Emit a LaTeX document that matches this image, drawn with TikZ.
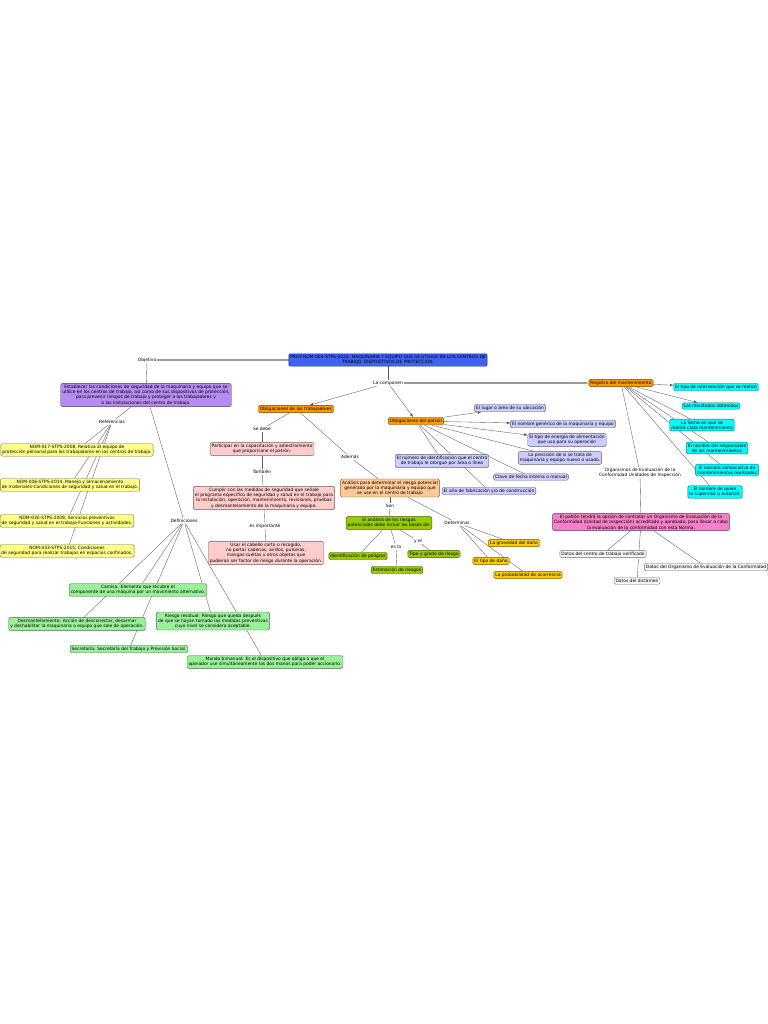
\documentclass[tikz,border=0pt]{standalone}
\usepackage{fontspec}
\setmainfont{DejaVu Sans}
\usetikzlibrary{positioning}
\usetikzlibrary{arrows.meta}
\usetikzlibrary{backgrounds}

\definecolor{rootblue}{HTML}{3D63F0}
\definecolor{objpurple}{HTML}{B58CF0}
\definecolor{refyellow}{HTML}{FFFF88}
\definecolor{defgreen}{HTML}{99F099}
\definecolor{obligorange}{HTML}{FF9A00}
\definecolor{workpink}{HTML}{FFCCCC}
\definecolor{bosslilac}{HTML}{CCCCFF}
\definecolor{riskpeach}{HTML}{FFC896}
\definecolor{baseolive}{HTML}{99CC00}
\definecolor{harmgold}{HTML}{FFCC00}
\definecolor{regcyan}{HTML}{00FFFF}
\definecolor{evalpink}{HTML}{F580C8}
\definecolor{datagray}{HTML}{F6F6F6}

\tikzset{
  box/.style={fill=#1, draw=#1!45!black, rounded corners=1.2pt, align=center, inner sep=1.3pt, line width=0.35pt},
  lbl/.style={inner sep=0.8pt, align=center},
  link/.style={draw=black!65, line width=0.3pt},
  mainlink/.style={draw=black!40, line width=0.9pt},
  tip/.style={-{Latex[length=3pt,width=2.4pt]}},
}

\begin{document}
\begin{tikzpicture}[x=0.03cm, y=-0.03cm, font=\fontsize{3.75}{4.5}\selectfont]
    \useasboundingbox (0,0) rectangle (768,1024);

    % centre
    \node[box=rootblue] (root) at (388,360) {PROY-NOM-004-STPS-2020, MAQUINARIA Y EQUIPO QUE SE UTILICE EN LOS CENTROS DE\\TRABAJO. DISPOSITIVOS DE PROTECCI\'ON.};
    \node[lbl] (obj) at (147,360) {Objetivo};
    \node[lbl] (comp) at (388,383) {La componen};

    % objetivo
    \node[box=objpurple] (goal) at (146,395) {Establecer las condiciones de seguridad de la maquinaria y equipo que se\\utilice en los centros de trabajo, as\'i como de sus dispositivos de protecci\'on,\\para prevenir riesgos de trabajo y proteger a los trabajadores y\\a las instalaciones del centro de trabajo.};
    \node[lbl] (refs) at (112,422) {Referencias};
    \node[lbl] (defs) at (184,521) {Definiciones};

    \node[box=refyellow] (nom17) at (77,450) {NOM-017-STPS-2008, Relativa al equipo de\\protecci\'on personal para los trabajadores en los centros de trabajo.};
    \node[box=refyellow] (nom6) at (70,485) {NOM-006-STPS-2014, Manejo y almacenamiento\\de materiales-Condiciones de seguridad y salud en el trabajo.};
    \node[box=refyellow] (nom30) at (67,521) {NOM-030-STPS-2009, Servicios preventivos\\de seguridad y salud en el trabajo-Funciones y actividades.};
    \node[box=refyellow] (nom33) at (67,551) {NOM-033-STPS-2015, Condiciones\\de seguridad para realizar trabajos en espacios confinados.};

    \node[box=defgreen] (camisa) at (138,590) {Camisa: Elemento que recubre el\\componente de una m\'aquina por un movimiento alternativo.};
    \node[box=defgreen] (desm) at (77,624) {Desmantelamiento: Acci\'on de desconectar, desarmar\\y deshabilitar la maquinaria o equipo que sale de operaci\'on.};
    \node[box=defgreen] (secre) at (129,649) {Secretar\'ia: Secretar\'ia del Trabajo y Previsi\'on Social.};
    \node[box=defgreen] (resid) at (213,621) {Riesgo residual: Riesgo que queda despu\'es\\de que se hayan tomado las medidas preventivas\\cuyo nivel se considera aceptable.};
    \node[box=defgreen] (mando) at (265,662) {Mando bimanual: Es el dispositivo que obliga a que el\\operador use simult\'aneamente las dos manos para poder accionarlo.};

    % trabajadores
    \node[box=obligorange] (work) at (296,409) {Obligaciones de los trabajadores};
    \node[lbl] (sedebe) at (262,429) {Se debe};
    \node[box=workpink] (capac) at (262,449) {Participar en la capacitaci\'on y adiestramiento\\que proporcione el patr\'on.};
    \node[lbl] (tamb) at (262,472) {Tambi\'en};
    \node[box=workpink] (cumplir) at (264,498) {Cumplir con las medidas de seguridad que se\~nale\\el programa espec\'ifico de seguridad y salud en el trabajo para\\la instalaci\'on, operaci\'on, mantenimiento, revisiones, pruebas\\y desmantelamiento de la maquinaria y equipo.};
    \node[lbl] (import) at (265,526) {es importante};
    \node[box=workpink] (cabello) at (266,553) {Usar el cabello corto o recogido,\\no portar cadenas, anillos, pulseras,\\mangas sueltas u otros objetos que\\pudieran ser factor de riesgo durante la operaci\'on.};
    \node[lbl] (ademas) at (350,457) {Adem\'as};

    % riesgo
    \node[box=riskpeach] (anal) at (390,488) {An\'alisis para determinar el riesgo potencial\\generado por la maquinaria y equipo que\\se use en el centro de trabajo};
    \node[lbl] (son) at (390,506) {Son};
    \node[box=baseolive] (bases) at (389,523) {El an\'alisis de los riesgos\\potenciales debe incluir las bases de:};
    \node[lbl] (esla) at (396,547) {es la};
    \node[lbl] (yel) at (418,541) {y el};
    \node[box=baseolive] (ident) at (358,556) {Identificaci\'on de peligros};
    \node[box=baseolive] (estim) at (397,570) {Estimaci\'on de riesgos};
    \node[box=baseolive] (tipo) at (434,554) {Tipo y grado de riesgo};
    \node[lbl] (deter) at (457,523) {Determinar};
    \node[box=harmgold] (grav) at (514,543) {La gravedad del da\~no};
    \node[box=harmgold] (tdano) at (491,561) {El tipo de da\~no};
    \node[box=harmgold] (prob) at (528,575) {La probabilidad de ocurrencia};

    % patron
    \node[box=obligorange] (boss) at (416,421) {Obligaciones del patr\'on};
    \node[box=bosslilac] (lugar) at (510,408) {El lugar o \'area de su ubicaci\'on};
    \node[box=bosslilac] (nombre) at (563,424) {El nombre gen\'erico de la maquinaria y equipo};
    \node[box=bosslilac] (energia) at (567,440) {El tipo de energ\'ia de alimentaci\'on\\que usa para su operaci\'on};
    \node[box=bosslilac] (nuevo) at (560,458) {La precisi\'on de si se trata de\\maquinaria y equipo nuevo o usado.};
    \node[box=bosslilac] (numid) at (442,461) {El n\'umero de identificaci\'on que el centro\\de trabajo le otorgue por \'area o l\'inea};
    \node[box=bosslilac] (clave) at (531,477) {Clave de fecha interna o manual};
    \node[box=bosslilac] (anio) at (489,491) {El a\~no de fabricaci\'on y/o de construcci\'on};

    % registro
    \node[box=obligorange] (reg) at (621,383) {Registro del mantenimiento};
    \node[box=regcyan] (interv) at (716,387) {El tipo de intervenci\'on que se realiz\'o};
    \node[box=regcyan] (result) at (711,406) {Los resultados obtenidos};
    \node[box=regcyan] (fecha) at (702,425) {La fecha en que se\\realiz\'o cada mantenimiento};
    \node[box=regcyan] (resp) at (717,448) {El nombre del responsable\\de los mantenimientos};
    \node[box=regcyan] (consec) at (727,470) {El n\'umero consecutivo de\\mantenimientos realizados};
    \node[box=regcyan] (superv) at (715,492) {El nombre de quien\\lo supervis\'o o autoriz\'o.};
    \node[lbl] (organ) at (640,473) {Organismos de Evaluaci\'on de la\\Conformidad Unidades de Inspecci\'on};
    \node[box=evalpink] (opcion) at (641,522) {El patr\'on tendr\'a la opci\'on de contratar un Organismo de Evaluaci\'on de la\\Conformidad (Unidad de Inspecci\'on) acreditado y aprobado, para llevar a cabo\\la evaluaci\'on de la conformidad con esta Norma.};
    \node[box=datagray] (dcentro) at (603,554) {Datos del centro de trabajo verificado};
    \node[box=datagray] (dorgan) at (706,567) {Datos del Organismo de Evaluaci\'on de la Conformidad};
    \node[box=datagray] (dictam) at (637,581) {Datos del dictamen};

    \begin{scope}[on background layer]
        \draw[mainlink] (obj) -- (root);
        \draw[link] (obj) -- (goal);
        \draw[link] (root) -- (comp);
        \draw[mainlink, tip] (comp) -- (reg);
        \draw[link, tip] (comp) -- (work);
        \draw[link, tip] (comp) -- (boss);

        \draw[link] (goal) -- (refs);
        \foreach \n in {nom17, nom6, nom30, nom33}
            \draw[link] (refs) -- (\n);
        \draw[link] (goal.south) ++(4,0) -- (defs);
        \foreach \n in {camisa, desm, secre, resid, mando}
            \draw[link] (defs) -- (\n);

        \draw[link] (work) -- (sedebe);
        \draw[link] (sedebe) -- (capac);
        \draw[link] (capac) -- (tamb);
        \draw[link] (tamb) -- (cumplir);
        \draw[link] (cumplir) -- (import);
        \draw[link] (import) -- (cabello);
        \draw[link] (work) -- (ademas);
        \draw[link] (ademas) -- (anal);

        \draw[link] (anal) -- (son);
        \draw[link] (son) -- (bases);
        \draw[link] (bases) -- (ident);
        \draw[link] (bases) -- (esla);
        \draw[link] (esla) -- (estim);
        \draw[link] (bases) -- (yel);
        \draw[link] (yel) -- (tipo);
        \draw[link] (anal) -- (deter);
        \foreach \n in {grav, tdano, prob}
            \draw[link] (deter) -- (\n);

        \foreach \n in {lugar, nombre, energia}
            \draw[link, tip] (boss) -- (\n);
        \foreach \n in {nuevo, numid, clave, anio}
            \draw[link] (boss) -- (\n);

        \foreach \n in {interv, result}
            \draw[link, tip] (reg) -- (\n);
        \foreach \n in {fecha, resp, consec, superv}
            \draw[link] (reg) -- (\n);
        \draw[link] (reg) -- (organ);
        \draw[link] (organ) -- (opcion);
        \foreach \n in {dcentro, dorgan, dictam}
            \draw[link] (opcion) -- (\n);
    \end{scope}
\end{tikzpicture}
\end{document}
